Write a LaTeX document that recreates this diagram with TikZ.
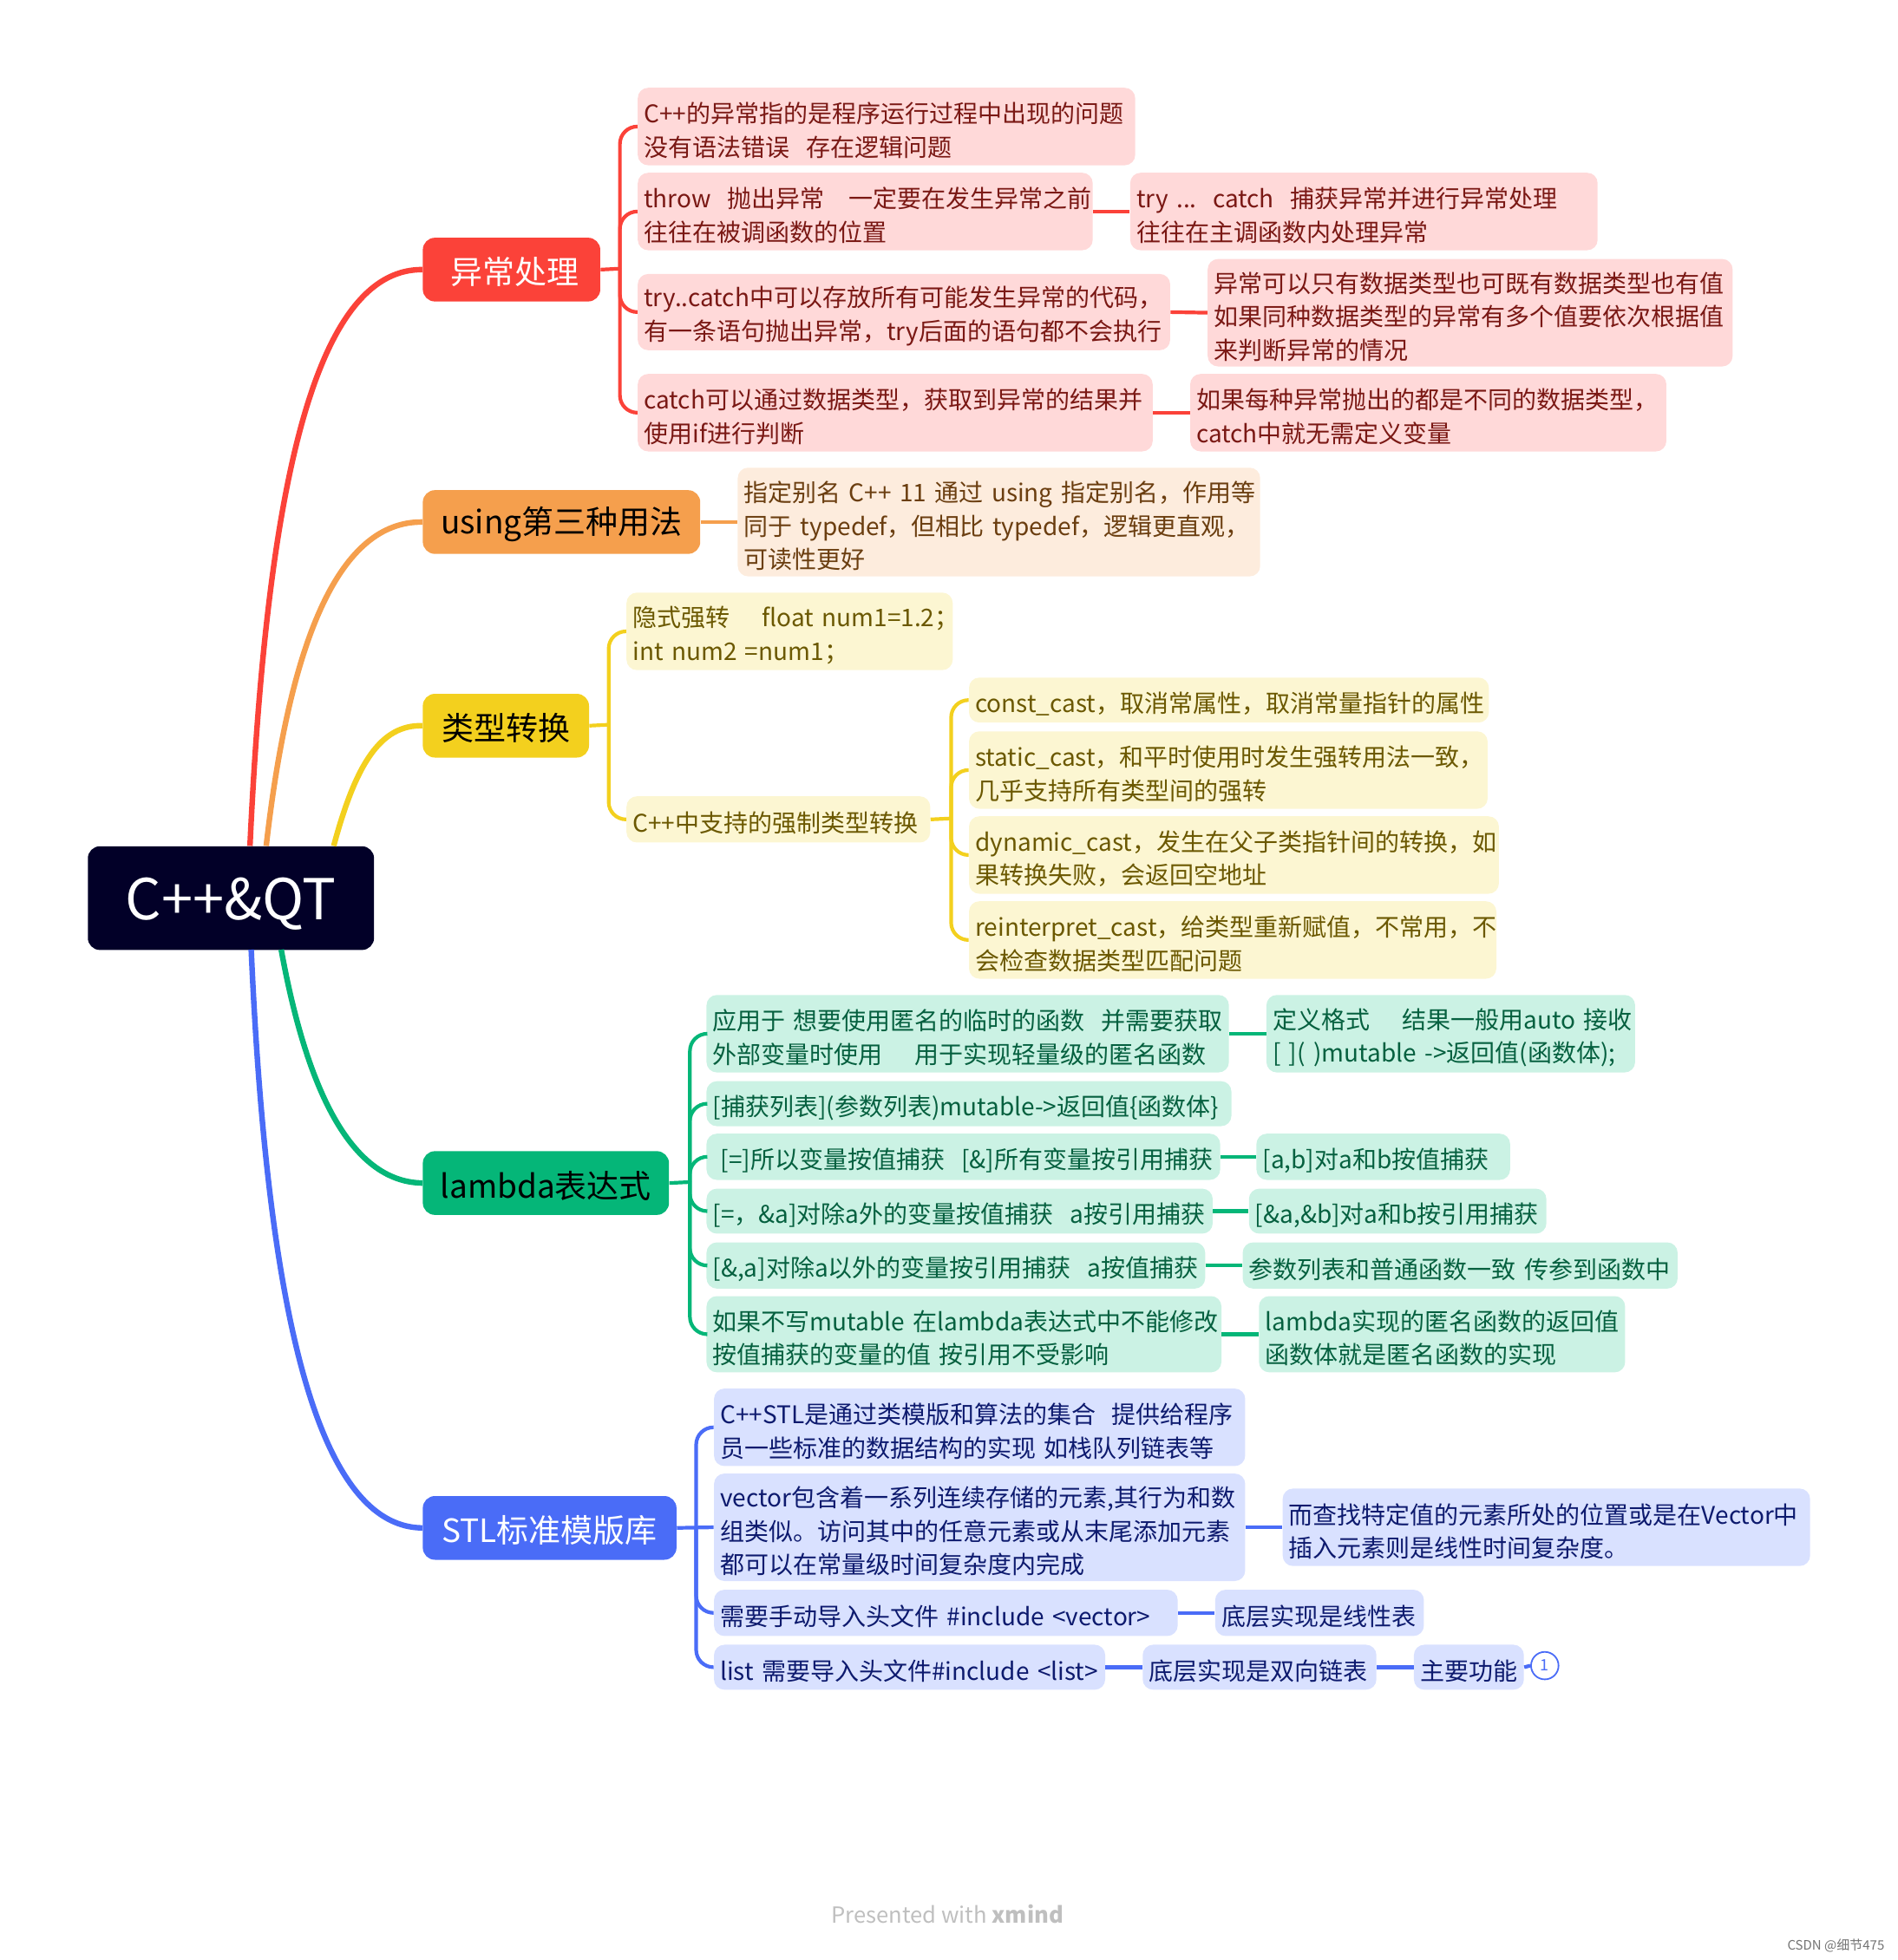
\documentclass[tikz,border=0pt]{standalone}
\usepackage{fontspec}
\setmainfont{Noto Sans CJK SC}
\usetikzlibrary{calc}
\def\pxu{0.7204pt}
\definecolor{myroot}{RGB}{2, 0, 40}
\definecolor{myred}{RGB}{251, 66, 57}
\definecolor{myredbg}{RGB}{255, 217, 217}
\definecolor{myredtx}{RGB}{122, 24, 20}
\definecolor{myorange}{RGB}{245, 159, 77}
\definecolor{myorangebg}{RGB}{253, 236, 221}
\definecolor{myorangetx}{RGB}{107, 62, 16}
\definecolor{myyellow}{RGB}{243, 208, 30}
\definecolor{myyellowbg}{RGB}{252, 246, 210}
\definecolor{myyellowtx}{RGB}{107, 88, 0}
\definecolor{mygreen}{RGB}{5, 182, 120}
\definecolor{mygreenbg}{RGB}{203, 242, 228}
\definecolor{mygreentx}{RGB}{5, 96, 63}
\definecolor{myblue}{RGB}{74, 108, 247}
\definecolor{mybluebg}{RGB}{217, 225, 255}
\definecolor{mybluetx}{RGB}{13, 26, 110}
\newcommand{\boxfont}{\fontsize{14}{19.2}\selectfont\spaceskip=3.2pt\hyphenpenalty=10000\exhyphenpenalty=10000\relax}
\tikzset{
  box/.style 2 args = {rectangle, anchor = north west, rounded corners = 6pt, inner xsep = 3.6pt, inner ysep = 0pt, minimum width = #1*\pxu, minimum height = #2*\pxu, text width = #1*\pxu - 7.2pt, align = left, font = \boxfont, execute at begin node = {\rule{0pt}{16.3pt}}},
  topic/.style 2 args = {rectangle, anchor = north west, rounded corners = 7pt, inner sep = 0pt, minimum width = #1*\pxu, minimum height = #2*\pxu, align = center, font = \fontsize{18.5}{22}\selectfont, execute at begin node = {\rule{0pt}{18.5pt}}},
  redbox/.style = {fill = myredbg, text = myredtx},
  orangebox/.style = {fill = myorangebg, text = myorangetx},
  yellowbox/.style = {fill = myyellowbg, text = myyellowtx},
  greenbox/.style = {fill = mygreenbg, text = mygreentx},
  bluebox/.style = {fill = mybluebg, text = mybluetx},
  branch/.style = {line width = 3.2pt},
  link/.style = {line width = 2.1pt, rounded corners = 10pt}
}
\begin{document}
\begin{tikzpicture}[x = 0.7204pt, y = -0.7204pt]
\useasboundingbox (0,0) rectangle (1518.6,1568.6);
\node[topic = {229}{83}, fill = myroot, text = white, font = \fontsize{32.5}{38}\selectfont, execute at begin node = {\rule{0pt}{31pt}}] (root) at (70,677) {C++\&QT};
\node[topic = {142}{51}, fill = myred, text = white] (err) at (338,190) {\hspace*{4pt}异常处理};
\node[topic = {222}{51}, fill = myorange, text = black] (use) at (338,392) {using第三种用法};
\node[topic = {133}{51}, fill = myyellow, text = black] (cast) at (338,555) {类型转换};
\node[topic = {197}{51}, fill = mygreen, text = black] (lam) at (338,921) {lambda表达式};
\node[topic = {203}{51}, fill = myblue, text = white] (stl) at (338,1197) {STL标准模版库};
\coordinate (rootred) at (200,677);
\coordinate (rootorange) at (213,677);
\coordinate (rootyellow) at (267,677);
\coordinate (rootgreen) at (225,760);
\coordinate (rootblue) at (201,760);
\draw[branch, myred] (rootred) .. controls (212,420) and (245,215) .. (err.west);
\draw[branch, myorange] (rootorange) .. controls (232,510) and (272,417) .. (use.west);
\draw[branch, myyellow] (rootyellow) .. controls (285,610) and (305,580) .. (cast.west);
\draw[branch, mygreen] (rootgreen) .. controls (245,870) and (280,946) .. (lam.west);
\draw[branch, myblue] (rootblue) .. controls (212,1010) and (245,1222) .. (stl.west);

\node[box = {398}{62}, redbox] (r1) at (510,70) {C++的异常指的是程序运行过程中出现的问题\\没有语法错误~~存在逻辑问题};
\node[box = {364}{62}, redbox] (r2) at (510,138) {throw~~抛出异常~~~一定要在发生异常之前\\往往在被调函数的位置};
\node[box = {374}{62}, redbox] (r2b) at (904,138) {try~...~~catch~~捕获异常并进行异常处理\\往往在主调函数内处理异常};
\node[box = {426}{61}, redbox] (r3) at (510,219) {try..catch中可以存放所有可能发生异常的代码，\\有一条语句抛出异常，try后面的语句都不会执行};
\node[box = {420}{86}, redbox] (r3b) at (966,207) {异常可以只有数据类型也可既有数据类型也有值\\如果同种数据类型的异常有多个值要依次根据值\\来判断异常的情况};
\node[box = {412}{62}, redbox] (r4) at (510,299) {catch可以通过数据类型，获取到异常的结果并\\使用if进行判断};
\node[box = {381}{62}, redbox] (r4b) at (952,299) {如果每种异常抛出的都是不同的数据类型，\\catch中就无需定义变量};
\coordinate (errbus) at (496,215);
\draw[link, myred] (err.east) -- (errbus);
\draw[link, myred] (r1.west) -| (errbus) |- (r4.west);
\draw[link, myred] (r2.west) -| (errbus);
\draw[link, myred] (r3.west) -| (errbus);
\draw[link, myred] (r2.east) -- (r2b.west);
\draw[link, myred] (r3.east) -- (r3b.west);
\draw[link, myred] (r4.east) -- (r4b.west);

\node[box = {418}{87}, orangebox] (o1) at (590,374) {指定别名~C++~11~通过~using~指定别名，作用等\\同于~typedef，但相比~typedef，逻辑更直观，\\可读性更好};
\draw[link, myorange] (use.east) -- (o1.west);

\node[box = {261}{62}, yellowbox] (y1) at (501,474) {隐式强转~~~~float~num1=1.2；\\int~num2~=num1；};
\node[box = {243}{37}, yellowbox] (y2) at (501,637) {C++中支持的强制类型转换};
\node[box = {416}{36}, yellowbox] (y3) at (775,542) {const\_cast，取消常属性，取消常量指针的属性};
\node[box = {415}{62}, yellowbox] (y4) at (775,585) {static\_cast，和平时使用时发生强转用法一致，\\几乎支持所有类型间的强转};
\node[box = {424}{62}, yellowbox] (y5) at (775,653) {dynamic\_cast，发生在父子类指针间的转换，如\\果转换失败，会返回空地址};
\node[box = {422}{62}, yellowbox] (y6) at (775,721) {reinterpret\_cast，给类型重新赋值，不常用，不\\会检查数据类型匹配问题};
\coordinate (castbus) at (487,580);
\coordinate (convbus) at (761,655);
\draw[link, myyellow] (cast.east) -- (castbus);
\draw[link, myyellow] (y1.west) -| (castbus) |- (y2.west);
\draw[link, myyellow] (y2.east) -- (convbus);
\draw[link, myyellow] (y3.west) -| (convbus) |- (y6.west);
\draw[link, myyellow] (y4.west) -| (convbus);
\draw[link, myyellow] (y5.west) -| (convbus);

\node[box = {418}{62}, greenbox] (g1) at (565,796) {应用于~想要使用匿名的临时的函数~~并需要获取\\外部变量时使用~~~~用于实现轻量级的匿名函数};
\node[box = {295}{62}, greenbox] (g1b) at (1013,796) {定义格式~~~~结果一般用auto~接收\\{[~](~)}mutable~->返回值(函数体);};
\node[box = {420}{36}, greenbox] (g2) at (565,865) {[捕获列表](参数列表)mutable->返回值\{函数体\}};
\node[box = {411}{37}, greenbox] (g3) at (565,907) {~[=]所以变量按值捕获~~[\&]所有变量按引用捕获};
\node[box = {203}{37}, greenbox] (g3b) at (1005,907) {[a,b]对a和b按值捕获};
\node[box = {405}{36}, greenbox] (g4) at (565,951) {[=，\&a]对除a外的变量按值捕获~~a按引用捕获};
\node[box = {238}{36}, greenbox] (g4b) at (999,951) {[\&a,\&b]对a和b按引用捕获};
\node[box = {399}{37}, greenbox] (g5) at (565,994) {[\&,a]对除a以外的变量按引用捕获~~a按值捕获};
\node[box = {348}{37}, greenbox] (g5b) at (994,994) {参数列表和普通函数一致~传参到函数中};
\node[box = {412}{61}, greenbox] (g6) at (565,1037) {如果不写mutable~在lambda表达式中不能修改\\按值捕获的变量的值~按引用不受影响};
\node[box = {293}{61}, greenbox] (g6b) at (1007,1037) {lambda实现的匿名函数的返回值\\函数体就是匿名函数的实现};
\coordinate (lambus) at (552,946);
\draw[link, mygreen] (lam.east) -- (lambus);
\draw[link, mygreen] (g1.west) -| (lambus) |- (g6.west);
\draw[link, mygreen] (g2.west) -| (lambus);
\draw[link, mygreen] (g3.west) -| (lambus);
\draw[link, mygreen] (g4.west) -| (lambus);
\draw[link, mygreen] (g5.west) -| (lambus);
\draw[link, mygreen] (g1.east) -- (g1b.west);
\draw[link, mygreen] (g3.east) -- (g3b.west);
\draw[link, mygreen] (g4.east) -- (g4b.west);
\draw[link, mygreen] (g5.east) -- (g5b.west);
\draw[link, mygreen] (g6.east) -- (g6b.west);

\node[box = {425}{62}, bluebox] (b1) at (571,1111) {C++STL是通过类模版和算法的集合~~提供给程序\\员一些标准的数据结构的实现~如栈队列链表等};
\node[box = {425}{86}, bluebox] (b2) at (571,1179) {vector包含着一系列连续存储的元素,其行为和数\\组类似。访问其中的任意元素或从末尾添加元素\\都可以在常量级时间复杂度内完成};
\node[box = {422}{62}, bluebox] (b2b) at (1026,1191) {而查找特定值的元素所处的位置或是在Vector中\\插入元素则是线性时间复杂度。};
\node[box = {371}{37}, bluebox] (b3) at (571,1272) {需要手动导入头文件~\#include~<vector>};
\node[box = {167}{37}, bluebox] (b3b) at (972,1272) {底层实现是线性表};
\node[box = {313}{36}, bluebox] (b4) at (571,1316) {list~需要导入头文件\#include~<list>};
\node[box = {187}{36}, bluebox] (b4b) at (914,1316) {底层实现是双向链表};
\node[box = {88}{36}, bluebox] (b4c) at (1131,1316) {主要功能};
\node[circle, draw = myblue, fill = white, text = myblue, line width = 0.9pt, minimum size = 22*\pxu, inner sep = 0pt, font = \fontsize{9}{10}\selectfont] (num) at (1236,1333) {1};
\coordinate (stlbus) at (557,1222);
\draw[link, myblue] (stl.east) -- (b2.west);
\draw[link, myblue] (b1.west) -| (stlbus) |- (b4.west);
\draw[link, myblue] (b3.west) -| (stlbus);
\draw[link, myblue] (b2.east) -- (b2b.west);
\draw[link, myblue] (b3.east) -- (b3b.west);
\draw[link, myblue] (b4.east) -- (b4b.west);
\draw[link, myblue] (b4b.east) -- (b4c.west);
\draw[link, myblue] (b4c.east) -- (num.west);

\node[text = black!25, font = \fontsize{12.8}{15}\selectfont] (brand) at (758,1532) {Presented with \textbf{xmind}};
\node[text = black!55, anchor = east, inner sep = 0pt, font = \fontsize{7.5}{9}\selectfont] (mark) at (1508,1557) {CSDN @细节475};
\end{tikzpicture}
\end{document}
